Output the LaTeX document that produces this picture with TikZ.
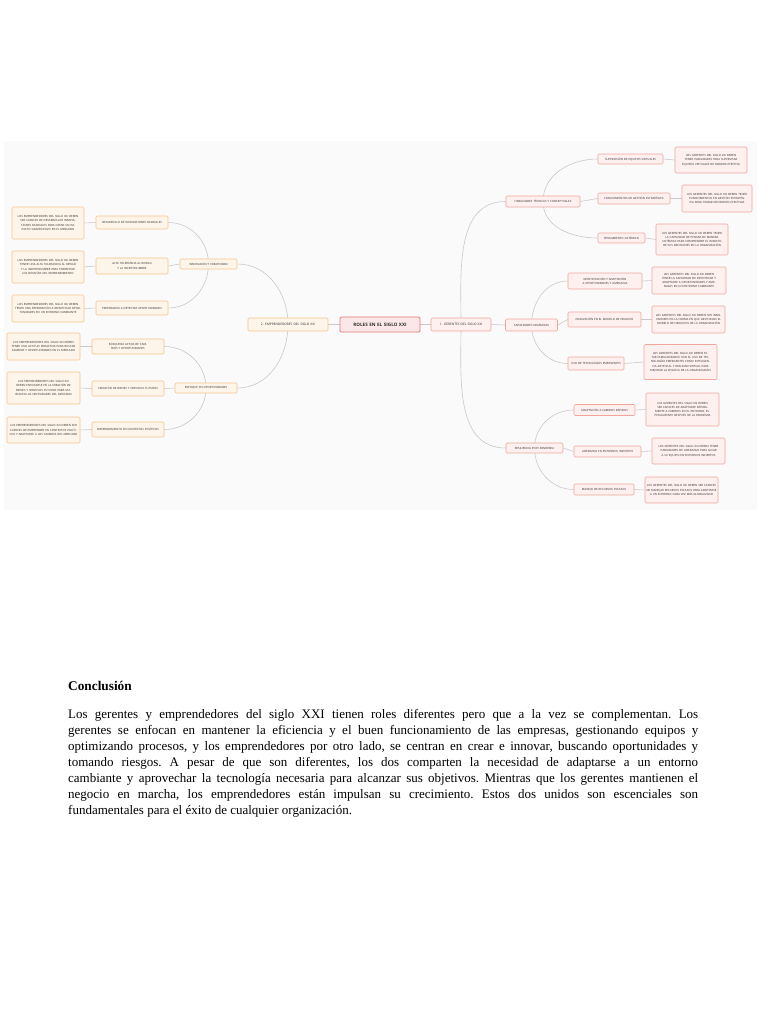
\documentclass[tikz,border=0pt]{standalone}
\usepackage{fontspec}
\setmainfont{Liberation Serif}
\newfontfamily\mapfont{Open Sans}
\usetikzlibrary{backgrounds}
\definecolor{orb}{HTML}{F5C48C}
\definecolor{orf}{HTML}{FDF4EA}
\definecolor{pkb}{HTML}{F0A69C}
\definecolor{pkf}{HTML}{FDF0EE}
\definecolor{ctb}{HTML}{E27A7A}
\definecolor{ctf}{HTML}{FBE7E7}
\definecolor{txt}{HTML}{2E2E2E}
\definecolor{lnk}{HTML}{C9C9C9}
\definecolor{mapbg}{HTML}{FAFAFA}
\newcommand\mn[7]{\pgfmathsetmacro\mntw{#5-3}\node[#2, text width=\mntw pt, minimum height=#6pt] (#1) at (#3,#4) {#7};}
\begin{document}
\begin{tikzpicture}[x=1pt,y=-1pt,
  box/.style={rounded corners=1.2pt, line width=0.6pt, inner xsep=1.5pt, inner ysep=0.4pt, align=center, text=txt, font=\mapfont\fontsize{2.85}{4.3}\selectfont},
  ob/.style={box, draw=orb, fill=orf},
  pb/.style={box, draw=pkb, fill=pkf},
  lvone/.style={font=\mapfont\fontsize{3.2}{4}\selectfont},
  link/.style={draw=lnk, line width=0.6pt}]
\useasboundingbox (0,0) rectangle (768,1024);

% central and first level
\mn{R0}{box, draw=ctb, fill=ctf, line width=0.8pt, font=\mapfont\bfseries\fontsize{4.6}{5.5}\selectfont}{380}{324.5}{80}{15}{ROLES EN EL SIGLO XXI}
\mn{E}{ob, lvone}{288}{324.5}{80}{13}{2. EMPRENDEDORES DEL SIGLO XXI}
\mn{G}{pb, lvone}{461}{324.5}{60}{13}{1. GERENTES DEL SIGLO XXI}

% left branch
\mn{I}{ob}{208.5}{264}{57}{10}{INNOVACIÓN Y CREATIVIDAD}
\mn{Enf}{ob}{206}{388}{62}{10}{ENFOQUE EN OPORTUNIDADES}
\mn{DI}{ob}{132}{222.5}{72}{13}{DESARROLLO DE INNOVACIONES RADICALES}
\mn{AT}{ob}{132}{266}{72}{16}{ALTA TOLERANCIA AL RIESGO Y LA INCERTIDUMBRE}
\mn{PD}{ob}{132}{308}{72}{14}{PREPARADOS A DETECTAR OPORTUNIDADES}
\mn{BAC}{ob}{128}{346.5}{72}{15}{BÚSQUEDA ACTIVA DE CAMBIOS Y OPORTUNIDADES}
\mn{CBS}{ob}{128}{388.5}{72}{15}{CREACIÓN DE BIENES Y SERVICIOS FUTUROS}
\mn{ECP}{ob}{128}{429.5}{72}{15}{EMPRENDIMIENTO EN CONTEXTOS POLÍTICOS}
\mn{dDI}{ob}{48}{223}{72}{32}{LOS EMPRENDEDORES DEL SIGLO XXI DEBEN SER CAPACES DE DESARROLLAR INNOVACIONES RADICALES PARA CREAR UN IMPACTO SIGNIFICATIVO EN EL MERCADO}
\mn{dAT}{ob}{48}{267}{72}{32}{LOS EMPRENDEDORES DEL SIGLO XXI DEBEN TENER UNA ALTA TOLERANCIA AL RIESGO Y LA INCERTIDUMBRE PARA ENFRENTAR LOS DESAFÍOS DEL EMPRENDIMIENTO}
\mn{dPD}{ob}{48}{308.5}{72}{27}{LOS EMPRENDEDORES DEL SIGLO XXI DEBEN TENER UNA PREPARACIÓN A IDENTIFICAR OPORTUNIDADES EN UN ENTORNO CAMBIANTE}
\mn{dBAC}{ob}{43.5}{346.5}{73}{27}{LOS EMPRENDEDORES DEL SIGLO XXI DEBEN TENER UNA ACTITUD PROACTIVA PARA BUSCAR CAMBIOS Y OPORTUNIDADES EN EL MERCADO}
\mn{dCBS}{ob}{43.5}{388}{73}{32}{LOS EMPRENDEDORES DEL SIGLO XXI DEBEN ENFOCARSE EN LA CREACIÓN DE BIENES Y SERVICIOS FUTUROS PARA SATISFACER LAS NECESIDADES DEL MERCADO}
\mn{dECP}{ob}{43.5}{430}{73}{26}{LOS EMPRENDEDORES DEL SIGLO XXI DEBEN SER CAPACES DE EMPRENDER EN CONTEXTOS POLÍTICOS Y ADAPTARSE A LOS CAMBIOS DEL MERCADO}

% right branch
\mn{H}{pb}{543}{201.5}{74}{11}{HABILIDADES TÉCNICAS Y CONCEPTUALES}
\mn{C}{pb}{531.5}{325}{52}{12}{CAPACIDADES DINÁMICAS}
\mn{Rs}{pb}{534.5}{448}{57}{10}{RESILIENCIA POST-PANDEMIA}
\mn{SEV}{pb}{630.5}{159}{65}{10}{SUPERVISIÓN DE EQUIPOS VIRTUALES}
\mn{CGE}{pb}{634}{198.5}{72}{11}{CONOCIMIENTOS DE GESTIÓN ESTRATÉGICA}
\mn{PS}{pb}{621.5}{238}{47}{10}{PENSAMIENTO SISTÉMICO}
\mn{dSEV}{pb}{711}{160}{72}{26}{LOS GERENTES DEL SIGLO XXI DEBEN TENER HABILIDADES PARA SUPERVISAR EQUIPOS VIRTUALES DE MANERA EFECTIVA}
\mn{dCGE}{pb}{717}{198.5}{70}{27}{LOS GERENTES DEL SIGLO XXI DEBEN TENER CONOCIMIENTOS EN GESTIÓN ESTRATÉGICA PARA TOMAR DECISIONES EFECTIVAS}
\mn{dPS}{pb}{692}{239.5}{72}{31}{LOS GERENTES DEL SIGLO XXI DEBEN TENER LA CAPACIDAD DE PENSAR DE MANERA SISTÉMICA PARA COMPRENDER EL IMPACTO DE SUS DECISIONES EN LA ORGANIZACIÓN}
\mn{IA}{pb}{605}{281}{74}{16}{IDENTIFICACIÓN Y ADAPTACIÓN A OPORTUNIDADES Y AMENAZAS}
\mn{IMN}{pb}{604.5}{319.5}{73}{15}{INNOVACIÓN EN EL MODELO DE NEGOCIO}
\mn{UTE}{pb}{596}{363.5}{56}{13}{USO DE TECNOLOGÍAS EMERGENTES}
\mn{dIA}{pb}{689}{280.5}{74}{27}{LOS GERENTES DEL SIGLO XXI DEBEN TENER LA CAPACIDAD DE IDENTIFICAR Y ADAPTARSE A OPORTUNIDADES Y AMENAZAS EN UN ENTORNO CAMBIANTE}
\mn{dIMN}{pb}{688.5}{319.5}{73}{27}{LOS GERENTES DEL SIGLO XXI DEBEN SER INNOVADORES EN LA FORMA EN QUE GESTIONAN EL MODELO DE NEGOCIOS DE LA ORGANIZACIÓN}
\mn{dUTE}{pb}{680.5}{362}{73}{35}{LOS GERENTES DEL SIGLO XXI DEBEN ESTAR FAMILIARIZADOS CON EL USO DE TECNOLOGÍAS EMERGENTES COMO INTELIGENCIA ARTIFICIAL Y REALIDAD VIRTUAL PARA MEJORAR LA EFICACIA DE LA ORGANIZACIÓN}
\mn{ACR}{pb}{604.5}{410}{61}{11}{ADAPTACIÓN A CAMBIOS RÁPIDOS}
\mn{LEI}{pb}{607.5}{451.5}{67}{11}{LIDERAZGO EN ENTORNOS INCIERTOS}
\mn{MRE}{pb}{604}{489.5}{60}{11}{MANEJO DE RECURSOS ESCASOS}
\mn{dACR}{pb}{682.5}{409.5}{73}{33}{LOS GERENTES DEL SIGLO XXI DEBEN SER CAPACES DE ADAPTARSE RÁPIDAMENTE A CAMBIOS EN EL ENTORNO, ESPECIALMENTE DESPUÉS DE LA PANDEMIA}
\mn{dLEI}{pb}{688.5}{451}{73}{26}{LOS GERENTES DEL SIGLO XXI DEBEN TENER HABILIDADES DE LIDERAZGO PARA GUIAR A SU EQUIPO EN ENTORNOS INCIERTOS}
\mn{dMRE}{pb}{681.5}{490}{73}{26}{LOS GERENTES DEL SIGLO XXI DEBEN SER CAPACES DE MANEJAR RECURSOS ESCASOS PARA ADAPTARSE A UN ENTORNO CADA VEZ MÁS GLOBALIZADO}

\begin{scope}[on background layer]
  \fill[mapbg] (4,141) rectangle (757,510);
  % trunk
  \draw[link] (R0.west) -- (E.east);
  \draw[link] (R0.east) -- (G.west);
  % left
  \draw[link] (E.center) to[out=90,in=0] (I.east);
  \draw[link] (E.center) to[out=-90,in=0] (Enf.east);
  \draw[link] (I.center) to[out=90,in=0] (DI.east);
  \draw[link] (I.west) -- (AT.east);
  \draw[link] (I.center) to[out=-90,in=0] (PD.east);
  \draw[link] (Enf.center) to[out=90,in=0] (BAC.east);
  \draw[link] (Enf.west) -- (CBS.east);
  \draw[link] (Enf.center) to[out=-90,in=0] (ECP.east);
  \foreach \a/\b in {DI/dDI, AT/dAT, PD/dPD, BAC/dBAC, CBS/dCBS, ECP/dECP}
    \draw[link] (\a.west) -- (\b.east);
  % right
  \draw[link] (G.center) to[out=90,in=180] (H.west);
  \draw[link] (G.east) -- (C.west);
  \draw[link] (G.center) to[out=-90,in=180] (Rs.west);
  \draw[link] (H.center) to[out=90,in=180] (SEV.west);
  \draw[link] (H.east) -- (CGE.west);
  \draw[link] (H.center) to[out=-90,in=180] (PS.west);
  \draw[link] (C.center) to[out=90,in=180] (IA.west);
  \draw[link] (C.east) -- (IMN.west);
  \draw[link] (C.center) to[out=-90,in=180] (UTE.west);
  \draw[link] (Rs.center) to[out=90,in=180] (ACR.west);
  \draw[link] (Rs.east) -- (LEI.west);
  \draw[link] (Rs.center) to[out=-90,in=180] (MRE.west);
  \foreach \a/\b in {SEV/dSEV, CGE/dCGE, PS/dPS, IA/dIA, IMN/dIMN, UTE/dUTE, ACR/dACR, LEI/dLEI, MRE/dMRE}
    \draw[link] (\a.east) -- (\b.west);
\end{scope}

% conclusion
\node[anchor=base west, inner sep=0pt, font=\bfseries\fontsize{13.3}{16}\selectfont] (ctitle) at (68,690) {Conclusión};
\node[anchor=base west, inner sep=0pt, font=\fontsize{13}{16}\selectfont] (ctext) at (68,718) {\parbox[t]{630pt}{\fontsize{13}{16}\selectfont\frenchspacing\emergencystretch=0pt
Los gerentes y emprendedores del siglo XXI tienen roles diferentes pero que a la vez se complementan. Los\linebreak
gerentes se enfocan en mantener la eficiencia y el buen funcionamiento de las empresas, gestionando equipos y\linebreak
optimizando procesos, y los emprendedores por otro lado, se centran en crear e innovar, buscando oportunidades y\linebreak
tomando riesgos. A pesar de que son diferentes, los dos comparten la necesidad de adaptarse a un entorno\linebreak
cambiante y aprovechar la tecnología necesaria para alcanzar sus objetivos. Mientras que los gerentes mantienen el\linebreak
negocio en marcha, los emprendedores están impulsan su crecimiento. Estos dos unidos son escenciales son\linebreak
fundamentales para el éxito de cualquier organización.}};
\end{tikzpicture}
\end{document}
